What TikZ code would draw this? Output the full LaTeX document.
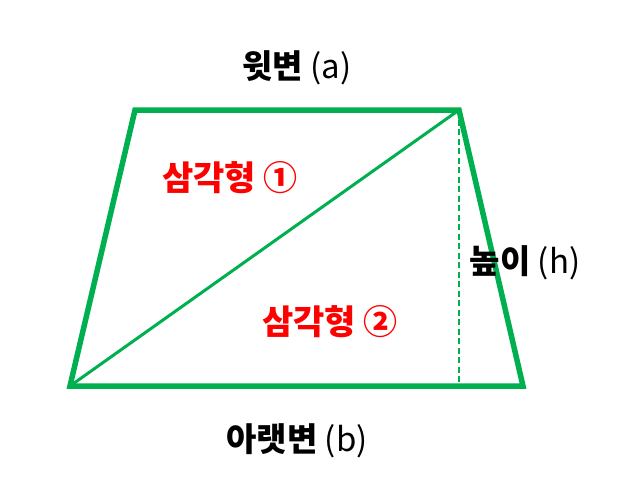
\documentclass[tikz,border=0pt]{standalone}
\usepackage{fontspec}
\setmainfont{Noto Sans CJK KR}
\usetikzlibrary{positioning}
\definecolor{trapgreen}{RGB}{0,176,80}
\definecolor{labelred}{RGB}{255,0,0}
\tikzstyle{edge} = [draw, trapgreen, line width = 5.5pt, line join = miter]
\tikzstyle{diag} = [draw, trapgreen, line width = 3pt]
\tikzstyle{height} = [draw, trapgreen, line width = 1.8pt, dash pattern = on 6pt off 3.5pt]
\tikzstyle{lbl} = [font = \fontsize{33}{38}\selectfont, inner sep = 0pt]
\tikzstyle{redlbl} = [lbl, text = labelred, font = \fontsize{34}{40}\selectfont\bfseries]
\begin{document}
\begin{tikzpicture}[x = 1pt, y = -1pt]
	\useasboundingbox (0,0) rectangle (642,503);
	\coordinate (tl) at (135,110);
	\coordinate (tr) at (459,110);
	\coordinate (br) at (523,386);
	\coordinate (bl) at (70,386);
	\coordinate (foot) at (459,386);
	\path [height] (tr) -- (foot);
	\path [diag] (bl) -- (tr);
	\path [edge] (tl) -- (tr) -- (br) -- (bl) -- cycle;
	\node [lbl] (top) at (297,68) {\textbf{윗변} (a)};
	\node [lbl] (bottom) at (297,441) {\textbf{아랫변} (b)};
	\node [lbl] (h) at (525,263) {\textbf{높이} (h)};
	\node [redlbl] (tri1) at (230,178) {삼각형 ①};
	\node [redlbl] (tri2) at (330,322) {삼각형 ②};
\end{tikzpicture}
\end{document}
